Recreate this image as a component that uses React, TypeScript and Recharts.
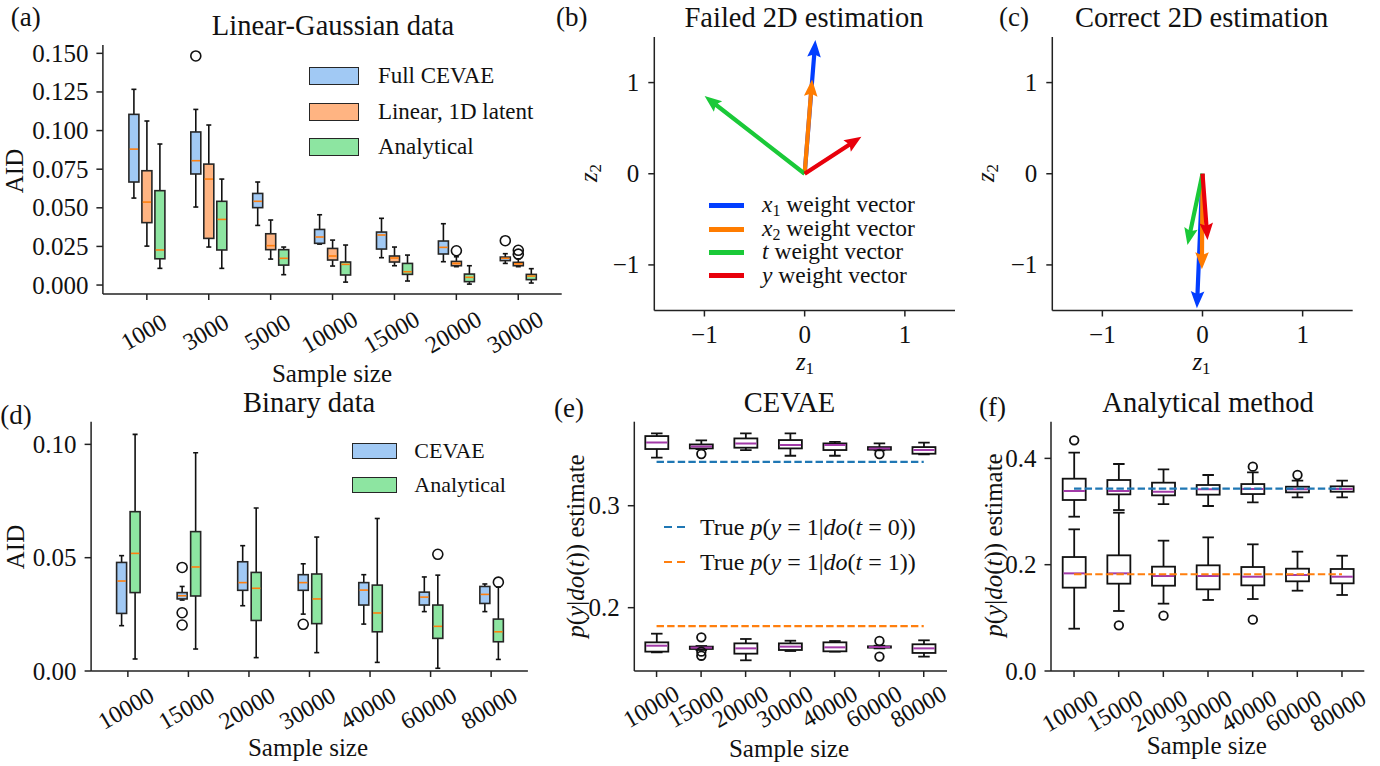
import { Bar, ComposedChart, ReferenceLine, Scatter, ScatterChart, XAxis, YAxis } from 'recharts'

const FONT = '"Liberation Serif", "Times New Roman", Times, serif'
const INK = '#111111'

// box stats are [low whisker, q1, median, q3, high whisker]

// (a) Linear-Gaussian data
const sizesA = ['1000', '3000', '5000', '10000', '15000', '20000', '30000']
const fullCevaeA = [
  [0.0563, 0.0667, 0.088, 0.1105, 0.1267],
  [0.0505, 0.0719, 0.0805, 0.0991, 0.1137],
  [0.0386, 0.0501, 0.0542, 0.0593, 0.0667],
  [0.0265, 0.027, 0.0311, 0.036, 0.0455],
  [0.0177, 0.0233, 0.0324, 0.0343, 0.0432],
  [0.0151, 0.0201, 0.0244, 0.0285, 0.0397],
  [0.014, 0.0158, 0.0173, 0.0181, 0.0203],
]
const fullCevaeOutA = [[], [0.1483], [], [], [], [], [0.0287]]
const linear1dA = [
  [0.0252, 0.0404, 0.0537, 0.074, 0.1062],
  [0.0246, 0.0302, 0.0686, 0.0783, 0.1036],
  [0.0168, 0.0229, 0.0255, 0.0332, 0.0421],
  [0.0123, 0.0162, 0.0188, 0.0237, 0.0291],
  [0.0125, 0.0149, 0.0175, 0.0188, 0.0246],
  [0.0119, 0.0125, 0.014, 0.0153, 0.0183],
  [0.0119, 0.0125, 0.0138, 0.0147, 0.017],
]
const linear1dOutA = [[], [], [], [], [], [0.0222], [0.0225, 0.02]]
const analyticalA = [
  [0.0108, 0.017, 0.0227, 0.0611, 0.0913],
  [0.0108, 0.0227, 0.0425, 0.0542, 0.0686],
  [0.0067, 0.0129, 0.0173, 0.0229, 0.0246],
  [0.0019, 0.0065, 0.0134, 0.0149, 0.0259],
  [0.0026, 0.0069, 0.0086, 0.014, 0.0194],
  [0.0006, 0.0022, 0.005, 0.0071, 0.0125],
  [0.0013, 0.0035, 0.0058, 0.0069, 0.0106],
]
const analyticalOutA = [[], [], [], [], [], [], []]
const ticksA = [0, 0.025, 0.05, 0.075, 0.1, 0.125, 0.15]

// (d) Binary data, (e) CEVAE, (f) Analytical method
const sizesB = ['10000', '15000', '20000', '30000', '40000', '60000', '80000']
const cevaeD = [
  [0.02, 0.0254, 0.0397, 0.0479, 0.0509],
  [0.0313, 0.0318, 0.0332, 0.0346, 0.0373],
  [0.0288, 0.0356, 0.039, 0.0482, 0.0553],
  [0.0251, 0.0356, 0.039, 0.0425, 0.0473],
  [0.0207, 0.0291, 0.0357, 0.039, 0.0425],
  [0.0262, 0.0291, 0.0326, 0.0348, 0.0415],
  [0.0262, 0.0298, 0.0338, 0.0373, 0.0384],
]
const cevaeOutD = [[], [0.0457, 0.0257, 0.0203], [], [0.0206], [], [], []]
const analyticalD = [
  [0.0053, 0.0346, 0.0519, 0.0703, 0.1044],
  [0.0097, 0.0331, 0.0459, 0.0615, 0.0963],
  [0.0059, 0.0223, 0.0365, 0.0435, 0.0719],
  [0.0081, 0.0209, 0.0318, 0.0428, 0.0591],
  [0.0038, 0.0173, 0.0256, 0.0379, 0.0673],
  [0.0012, 0.0144, 0.0197, 0.0291, 0.0423],
  [0.0051, 0.0129, 0.0173, 0.0229, 0.037],
]
const analyticalOutD = [[], [], [], [], [], [0.0515], [0.0392]]
const ticksD = [0, 0.05, 0.1]

const cevaeT0 = [
  [0.3471, 0.3556, 0.3621, 0.3683, 0.3709],
  [0.3556, 0.3562, 0.3582, 0.3601, 0.3641],
  [0.3546, 0.3569, 0.3611, 0.366, 0.3709],
  [0.349, 0.3562, 0.3595, 0.3644, 0.3709],
  [0.349, 0.3546, 0.3595, 0.3611, 0.3627],
  [0.3542, 0.3549, 0.3562, 0.3575, 0.3611],
  [0.3503, 0.351, 0.3546, 0.3575, 0.3618],
]
const cevaeT0Out = [[], [0.3507], [], [], [], [0.3507], []]
const cevaeT1 = [
  [0.1562, 0.1569, 0.1627, 0.166, 0.1745],
  [0.1585, 0.1595, 0.1608, 0.1618, 0.1624],
  [0.1484, 0.1549, 0.1601, 0.165, 0.1693],
  [0.1575, 0.1585, 0.1618, 0.165, 0.1676],
  [0.1569, 0.1572, 0.1611, 0.166, 0.1673],
  [0.1601, 0.1608, 0.1614, 0.1621, 0.1627],
  [0.152, 0.1556, 0.1601, 0.1641, 0.168],
]
const cevaeT1Out = [[], [0.1709, 0.1569, 0.1529], [], [], [], [0.1673, 0.152], []]
const ticksE = [0.2, 0.3]

const analyticT0 = [
  [0.2903, 0.3217, 0.3386, 0.3618, 0.4107],
  [0.3028, 0.3323, 0.3386, 0.3593, 0.3894],
  [0.3141, 0.3304, 0.3373, 0.3543, 0.3793],
  [0.3104, 0.3317, 0.3417, 0.3499, 0.3687],
  [0.3173, 0.3329, 0.3423, 0.3517, 0.3737],
  [0.3267, 0.3361, 0.3417, 0.3467, 0.358],
  [0.3267, 0.3373, 0.3423, 0.3474, 0.358],
]
const analyticT0Out = [[0.4339], [], [], [], [0.3844], [0.3687], []]
const analyticT1 = [
  [0.0796, 0.1568, 0.1837, 0.2144, 0.2665],
  [0.1129, 0.1643, 0.1837, 0.2176, 0.2978],
  [0.1267, 0.1605, 0.1787, 0.1963, 0.2452],
  [0.1336, 0.1536, 0.1787, 0.1988, 0.2514],
  [0.1354, 0.1611, 0.1774, 0.1956, 0.2383],
  [0.1511, 0.1687, 0.1806, 0.1925, 0.2245],
  [0.143, 0.1649, 0.1774, 0.1919, 0.2169],
]
const analyticT1Out = [[], [0.0859], [0.1041], [], [0.0966], [], []]
const ticksF = [0, 0.2, 0.4]

const trueDo0 = 0.343
const trueDo1 = 0.182

// (b), (c) weight vectors
const vectorNames = ['x1', 'x2', 't', 'y']
const vectorColors = ['#023eff', '#ff7c00', '#1ac938', '#e8000b']
const failedDx = [0.107, 0.074, -0.998, 0.566]
const failedDy = [1.466, 1.035, 0.852, 0.406]
const correctDx = [-0.056, -0.006, -0.15, 0.05]
const correctDy = [-1.476, -1.048, -0.782, -0.727]
const ticksZ = [-1, 0, 1]

const blueFill = '#a1c9f4'
const orangeFill = '#ffb482'
const greenFill = '#8de5a1'

const toBox = (s: number[], out: number[]) => ({
  s,
  out,
  range: [Math.min(s[0], ...out), Math.max(s[4], ...out)],
})

const rowsA = sizesA.map((n, i) => ({
  n,
  full: toBox(fullCevaeA[i], fullCevaeOutA[i]),
  lin: toBox(linear1dA[i], linear1dOutA[i]),
  ana: toBox(analyticalA[i], analyticalOutA[i]),
}))
const rowsD = sizesB.map((n, i) => ({
  n,
  cev: toBox(cevaeD[i], cevaeOutD[i]),
  ana: toBox(analyticalD[i], analyticalOutD[i]),
}))
const rowsE = sizesB.map((n, i) => ({
  n,
  t0: toBox(cevaeT0[i], cevaeT0Out[i]),
  t1: toBox(cevaeT1[i], cevaeT1Out[i]),
}))
const rowsF = sizesB.map((n, i) => ({
  n,
  t0: toBox(analyticT0[i], analyticT0Out[i]),
  t1: toBox(analyticT1[i], analyticT1Out[i]),
}))
const tipsB = failedDx.map((x, i) => ({ x, y: failedDy[i] }))
const tipsC = correctDx.map((x, i) => ({ x, y: correctDy[i] }))

type BoxStyle = { fill: string; edge: string; median: string; lw: number; mw: number; r: number }

const boxShape = (key: string, st: BoxStyle) => (props: any) => {
  const item = props.payload?.[key]
  if (!item) return <g />
  const top = Math.min(props.y, props.y + props.height)
  const bot = Math.max(props.y, props.y + props.height)
  const [lo, hi] = item.range
  const py = (v: number) => (hi === lo ? bot : bot - ((v - lo) / (hi - lo)) * (bot - top))
  const w = props.width
  const cx = props.x + w / 2
  const cap = w / 4
  const [wl, q1, med, q3, wh] = item.s
  return (
    <g>
      <line x1={cx} x2={cx} y1={py(wl)} y2={py(q1)} stroke={INK} strokeWidth={st.lw} />
      <line x1={cx} x2={cx} y1={py(q3)} y2={py(wh)} stroke={INK} strokeWidth={st.lw} />
      <line x1={cx - cap} x2={cx + cap} y1={py(wl)} y2={py(wl)} stroke={INK} strokeWidth={st.lw} />
      <line x1={cx - cap} x2={cx + cap} y1={py(wh)} y2={py(wh)} stroke={INK} strokeWidth={st.lw} />
      <rect x={props.x} y={py(q3)} width={w} height={Math.max(py(q1) - py(q3), 0.5)} fill={st.fill} stroke={st.edge} strokeWidth={st.lw} />
      <line x1={props.x + 0.8} x2={props.x + w - 0.8} y1={py(med)} y2={py(med)} stroke={st.median} strokeWidth={st.mw} />
      {item.out.map((o: number, j: number) => (
        <circle key={j} cx={cx} cy={py(o)} r={st.r} fill="none" stroke={INK} strokeWidth={st.lw} />
      ))}
    </g>
  )
}

const arrowShape = (color: string) => (p: any) => {
  const { x1, y1, x2, y2 } = p
  const dx = x2 - x1
  const dy = y2 - y1
  const len = Math.hypot(dx, dy)
  if (!len) return <g />
  const ux = dx / len
  const uy = dy / len
  const nx = -uy
  const ny = ux
  const sw = 2.1
  const hw = 6.8
  const hl = 17
  const ha = 15
  const pt = (a: number, b: number) => `${x1 + ux * a + nx * b},${y1 + uy * a + ny * b}`
  const pts = [pt(0, sw), pt(len - ha, sw), pt(len - hl, hw), pt(len, 0), pt(len - hl, -hw), pt(len - ha, -sw), pt(0, -sw)]
  return <polygon points={pts.join(' ')} fill={color} />
}

// rotated category ticks
const slantTick = (dx: number, dy: number) => (p: any) => {
  const x = p.x + dx
  const y = p.y + dy
  return (
    <text x={x} y={y} transform={`rotate(-30 ${x} ${y})`} textAnchor="middle" dominantBaseline="central" fontSize={24} fontFamily={FONT} fill={INK}>
      {p.payload.value}
    </text>
  )
}

const yTick = (fmt: (v: number) => string) => (p: any) => (
  <text x={p.x} y={p.y} textAnchor="end" dominantBaseline="central" fontSize={25} fontFamily={FONT} fill={INK}>
    {fmt(p.payload.value)}
  </text>
)

const xTick = (fmt: (v: number) => string) => (p: any) => (
  <text x={p.x} y={p.y + 17.5} textAnchor="middle" fontSize={25} fontFamily={FONT} fill={INK}>
    {fmt(p.payload.value)}
  </text>
)

const minus = (v: number) => (v < 0 ? `\u2212${Math.abs(v)}` : `${v}`)

const axisStyle = { stroke: '#222', strokeWidth: 1.5 }

const pastel = (fill: string): BoxStyle => ({ fill, edge: '#262626', median: '#ff7f0e', lw: 1.6, mw: 1.6, r: 5 })
const plain: BoxStyle = { fill: '#ffffff', edge: INK, median: '#a23aa8', lw: 1.8, mw: 2, r: 4.3 }

const Txt = ({ x, y, size, rotate, start, lh = 0.95, children }: any) => (
  <div
    style={{
      position: 'absolute',
      left: x,
      top: y,
      transform: `translate(${start ? '0' : '-50%'}, -50%)${rotate ? ` rotate(${rotate}deg)` : ''}`,
      fontSize: size,
      lineHeight: lh,
      whiteSpace: 'nowrap',
    }}
  >
    {children}
  </div>
)

const Sub = ({ children }: any) => <span style={{ fontSize: '0.68em', position: 'relative', top: '0.22em', lineHeight: 0 }}>{children}</span>

const Patch = ({ x, y, w, h, fill }: any) => (
  <div style={{ position: 'absolute', left: x, top: y - h / 2, width: w, height: h, background: fill, border: '1.5px solid #262626', boxSizing: 'border-box' }} />
)

const Place = ({ x, y, children }: any) => <div style={{ position: 'absolute', left: x, top: y }}>{children}</div>

const App = () => {
  return (
    <div style={{ position: 'absolute', left: 0, top: 0, width: 1380, height: 766, background: '#fff', fontFamily: FONT, color: INK, overflow: 'hidden' }}>
      {/* (a) */}
      <Place x={0} y={0}>
        <ComposedChart width={580} height={390} data={rowsA} margin={{ top: 45, right: 18.3, left: 0, bottom: 0 }} barGap={3}>
          <XAxis dataKey="n" height={96} padding={{ left: 13, right: 12.5 }} interval={0} tickSize={6} tickMargin={2} tick={slantTick(-3, 30)} axisLine={axisStyle} tickLine={axisStyle} />
          <YAxis width={102.9} domain={[-0.0058, 0.1554]} allowDataOverflow ticks={ticksA} tickSize={6.5} tickMargin={8} tick={yTick((v) => v.toFixed(3))} axisLine={axisStyle} tickLine={axisStyle} />
          <Bar dataKey={(r: any) => r.full.range} barSize={10} shape={boxShape('full', pastel(blueFill))} isAnimationActive={false} />
          <Bar dataKey={(r: any) => r.lin.range} barSize={10} shape={boxShape('lin', pastel(orangeFill))} isAnimationActive={false} />
          <Bar dataKey={(r: any) => r.ana.range} barSize={10} shape={boxShape('ana', pastel(greenFill))} isAnimationActive={false} />
        </ComposedChart>
      </Place>
      <Txt x={25.8} y={18.3} size={27}>(a)</Txt>
      <Txt x={333} y={25.5} size={28.5}>Linear-Gaussian data</Txt>
      <Txt x={15.2} y={171} size={25} rotate={-90}>AID</Txt>
      <Txt x={332} y={373.8} size={25}>Sample size</Txt>
      <Patch x={309} y={76} w={50} h={18.3} fill={blueFill} />
      <Patch x={309} y={111.7} w={50} h={18.3} fill={orangeFill} />
      <Patch x={309} y={146.7} w={50} h={18.3} fill={greenFill} />
      <Txt x={377.9} y={76} size={23} start>Full CEVAE</Txt>
      <Txt x={377.9} y={111.7} size={23} start>Linear, 1D latent</Txt>
      <Txt x={377.9} y={146.7} size={23} start>Analytical</Txt>

      {/* (b) */}
      <Place x={560} y={0}>
        <ScatterChart width={410} height={390} margin={{ top: 37, right: 15, left: 0, bottom: 0 }}>
          <XAxis type="number" dataKey="x" domain={[-1.5, 1.5]} allowDataOverflow ticks={ticksZ} height={79.5} tickSize={6} tickMargin={9} tick={xTick(minus)} axisLine={axisStyle} tickLine={axisStyle} />
          <YAxis type="number" dataKey="y" domain={[-1.5, 1.5]} allowDataOverflow ticks={ticksZ} width={94.3} tickSize={6} tickMargin={9} tick={yTick(minus)} axisLine={axisStyle} tickLine={axisStyle} />
          <Scatter data={tipsB} shape={() => <g />} isAnimationActive={false} />
          {vectorNames.map((name, i) => (
            <ReferenceLine key={name} segment={[{ x: 0, y: 0 }, { x: failedDx[i], y: failedDy[i] }]} ifOverflow="visible" stroke={vectorColors[i]} shape={arrowShape(vectorColors[i])} />
          ))}
        </ScatterChart>
      </Place>
      <Txt x={571.7} y={17.5} size={27}>(b)</Txt>
      <Txt x={804} y={17.5} size={28.5}>Failed 2D estimation</Txt>
      <Txt x={589} y={172.5} size={25} rotate={-90}><i>z</i><Sub>2</Sub></Txt>
      <Txt x={805} y={362} size={25}><i>z</i><Sub>1</Sub></Txt>
      {[205, 229, 252.3, 275.7].map((y, i) => (
        <div key={i} style={{ position: 'absolute', left: 709, top: y - 2.5, width: 35, height: 5, background: vectorColors[i] }} />
      ))}
      <Txt x={762} y={205} size={23.5} lh={0.85} start><i>x</i><Sub>1</Sub> weight vector</Txt>
      <Txt x={762} y={229} size={23.5} lh={0.85} start><i>x</i><Sub>2</Sub> weight vector</Txt>
      <Txt x={762} y={252.3} size={23.5} lh={0.85} start><i>t</i> weight vector</Txt>
      <Txt x={762} y={275.7} size={23.5} lh={0.85} start><i>y</i> weight vector</Txt>

      {/* (c) */}
      <Place x={970} y={0}>
        <ScatterChart width={410} height={390} margin={{ top: 37, right: 27.3, left: 0, bottom: 0 }}>
          <XAxis type="number" dataKey="x" domain={[-1.5, 1.5]} allowDataOverflow ticks={ticksZ} height={79.5} tickSize={6} tickMargin={9} tick={xTick(minus)} axisLine={axisStyle} tickLine={axisStyle} />
          <YAxis type="number" dataKey="y" domain={[-1.5, 1.5]} allowDataOverflow ticks={ticksZ} width={82.3} tickSize={6} tickMargin={9} tick={yTick(minus)} axisLine={axisStyle} tickLine={axisStyle} />
          <Scatter data={tipsC} shape={() => <g />} isAnimationActive={false} />
          {vectorNames.map((name, i) => (
            <ReferenceLine key={name} segment={[{ x: 0, y: 0 }, { x: correctDx[i], y: correctDy[i] }]} ifOverflow="visible" stroke={vectorColors[i]} shape={arrowShape(vectorColors[i])} />
          ))}
        </ScatterChart>
      </Place>
      <Txt x={1014} y={18.3} size={27}>(c)</Txt>
      <Txt x={1201.7} y={17.7} size={28.5}>Correct 2D estimation</Txt>
      <Txt x={986} y={172.5} size={25} rotate={-90}><i>z</i><Sub>2</Sub></Txt>
      <Txt x={1201.5} y={362} size={25}><i>z</i><Sub>1</Sub></Txt>

      {/* (d) */}
      <Place x={0} y={380}>
        <ComposedChart width={540} height={386} data={rowsD} margin={{ top: 41.7, right: 12.1, left: 0, bottom: 0 }} barGap={3.5}>
          <XAxis dataKey="n" height={95} padding={{ left: 6.5, right: 6.5 }} interval={0} tickSize={6} tickMargin={2} tick={slantTick(-2, 29.3)} axisLine={axisStyle} tickLine={axisStyle} />
          <YAxis width={91.1} domain={[0, 0.11]} allowDataOverflow ticks={ticksD} tickSize={6.5} tickMargin={8} tick={yTick((v) => v.toFixed(2))} axisLine={axisStyle} tickLine={axisStyle} />
          <Bar dataKey={(r: any) => r.cev.range} barSize={10} shape={boxShape('cev', pastel(blueFill))} isAnimationActive={false} />
          <Bar dataKey={(r: any) => r.ana.range} barSize={10} shape={boxShape('ana', pastel(greenFill))} isAnimationActive={false} />
        </ComposedChart>
      </Place>
      <Txt x={16} y={415.8} size={27}>(d)</Txt>
      <Txt x={309.2} y={403.2} size={28.5}>Binary data</Txt>
      <Txt x={16} y={546.5} size={25} rotate={-90}>AID</Txt>
      <Txt x={308} y={747.5} size={25}>Sample size</Txt>
      <Patch x={351.8} y={451} w={45.3} h={15.7} fill={blueFill} />
      <Patch x={351.8} y={485} w={45.3} h={15.7} fill={greenFill} />
      <Txt x={414.3} y={451} size={22} start>CEVAE</Txt>
      <Txt x={414.3} y={485} size={22} start>Analytical</Txt>

      {/* (e) */}
      <Place x={540} y={380}>
        <ComposedChart width={420} height={386} data={rowsE} margin={{ top: 41.7, right: 13, left: 0, bottom: 0 }}>
          <XAxis xAxisId={0} dataKey="n" height={95} padding={{ left: 0, right: 1 }} interval={0} tickSize={6} tickMargin={2} tick={slantTick(-5.3, 27.7)} axisLine={axisStyle} tickLine={axisStyle} />
          <XAxis xAxisId={1} dataKey="n" height={95} padding={{ left: 0, right: 1 }} hide />
          <YAxis width={94.3} domain={[0.1379, 0.3824]} allowDataOverflow ticks={ticksE} tickSize={6.5} tickMargin={8} tick={yTick((v) => v.toFixed(1))} axisLine={axisStyle} tickLine={axisStyle} />
          <Bar xAxisId={0} dataKey={(r: any) => r.t0.range} barSize={23} shape={boxShape('t0', plain)} isAnimationActive={false} />
          <Bar xAxisId={1} dataKey={(r: any) => r.t1.range} barSize={23} shape={boxShape('t1', plain)} isAnimationActive={false} />
          <ReferenceLine xAxisId={0} segment={[{ x: sizesB[0], y: trueDo0 }, { x: sizesB[sizesB.length - 1], y: trueDo0 }]} stroke="#1f77b4" strokeWidth={2.2} strokeDasharray="7.4 3.2" ifOverflow="visible" />
          <ReferenceLine xAxisId={0} segment={[{ x: sizesB[0], y: trueDo1 }, { x: sizesB[sizesB.length - 1], y: trueDo1 }]} stroke="#ff7f0e" strokeWidth={2.2} strokeDasharray="7.4 3.2" ifOverflow="visible" />
        </ComposedChart>
      </Place>
      <Txt x={569} y={408.5} size={27}>(e)</Txt>
      <Txt x={789.5} y={402.5} size={28.5}>CEVAE</Txt>
      <Txt x={576} y={546} size={25} rotate={-90}><i>p</i>(<i>y</i>|<i>do</i>(<i>t</i>)) estimate</Txt>
      <Txt x={789} y={749} size={25}>Sample size</Txt>
      {[526.7, 562.3].map((y, i) => (
        <svg key={i} width={24} height={4} style={{ position: 'absolute', left: 664, top: y - 2 }}>
          <line x1={0} x2={24} y1={2} y2={2} stroke={i === 0 ? '#1f77b4' : '#ff7f0e'} strokeWidth={2.2} strokeDasharray="8 5" />
        </svg>
      ))}
      <Txt x={700} y={526.7} size={24} start>True <i>p</i>(<i>y</i> = 1|<i>do</i>(<i>t</i> = 0))</Txt>
      <Txt x={700} y={562.3} size={24} start>True <i>p</i>(<i>y</i> = 1|<i>do</i>(<i>t</i> = 1))</Txt>

      {/* (f) */}
      <Place x={960} y={380}>
        <ComposedChart width={420} height={386} data={rowsF} margin={{ top: 41.7, right: 15.7, left: 0, bottom: 0 }}>
          <XAxis xAxisId={0} dataKey="n" height={95} padding={{ left: 0.7, right: 0 }} interval={0} tickSize={6} tickMargin={2} tick={slantTick(-4, 31.8)} axisLine={axisStyle} tickLine={axisStyle} />
          <XAxis xAxisId={1} dataKey="n" height={95} padding={{ left: 0.7, right: 0 }} hide />
          <YAxis width={91} domain={[0, 0.469]} allowDataOverflow ticks={ticksF} tickSize={6.5} tickMargin={8} tick={yTick((v) => v.toFixed(1))} axisLine={axisStyle} tickLine={axisStyle} />
          <Bar xAxisId={0} dataKey={(r: any) => r.t0.range} barSize={23} shape={boxShape('t0', plain)} isAnimationActive={false} />
          <Bar xAxisId={1} dataKey={(r: any) => r.t1.range} barSize={23} shape={boxShape('t1', plain)} isAnimationActive={false} />
          <ReferenceLine xAxisId={0} segment={[{ x: sizesB[0], y: trueDo0 }, { x: sizesB[sizesB.length - 1], y: trueDo0 }]} stroke="#1f77b4" strokeWidth={2.2} strokeDasharray="7.4 3.2" ifOverflow="visible" />
          <ReferenceLine xAxisId={0} segment={[{ x: sizesB[0], y: trueDo1 }, { x: sizesB[sizesB.length - 1], y: trueDo1 }]} stroke="#ff7f0e" strokeWidth={2.2} strokeDasharray="7.4 3.2" ifOverflow="visible" />
        </ComposedChart>
      </Place>
      <Txt x={992.5} y={408} size={27}>(f)</Txt>
      <Txt x={1208} y={402.5} size={28.5}>Analytical method</Txt>
      <Txt x={994} y={545} size={25} rotate={-90}><i>p</i>(<i>y</i>|<i>do</i>(<i>t</i>)) estimate</Txt>
      <Txt x={1206.7} y={745.7} size={25}>Sample size</Txt>
    </div>
  )
}

export default App
